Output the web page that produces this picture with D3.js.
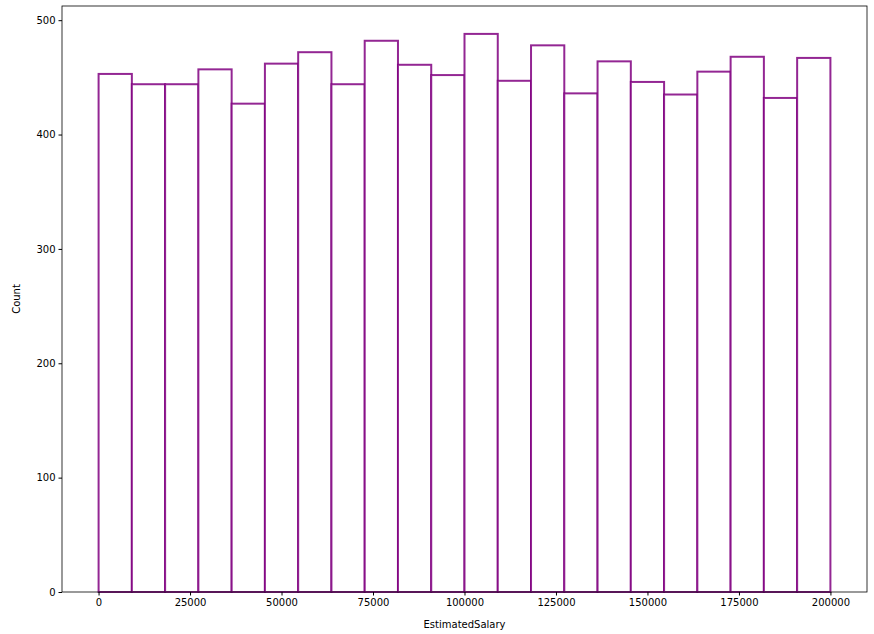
<!DOCTYPE html>
<html>
<head>
<meta charset="utf-8">
<script src="https://cdn.jsdelivr.net/npm/d3@7"></script>
<style>
  body { margin: 0; background: #fff; }
  text { font-family: "DejaVu Sans", sans-serif; }
</style>
</head>
<body>
<div id="chart"></div>
<script>
// histogram of EstimatedSalary, 22 bins
const binStart = 11.58;
const binEnd = 199992.48;
const counts = [453, 444, 444, 457, 427, 462, 472, 444, 482, 461, 452,
                488, 447, 478, 436, 464, 446, 435, 455, 468, 432, 467];
const xTicks = [0, 25000, 50000, 75000, 100000, 125000, 150000, 175000, 200000];
const yTicks = [0, 100, 200, 300, 400, 500];

const W = 874, H = 634;
const margin = { top: 6, right: 7, bottom: 42, left: 62 };
const width = W - margin.left - margin.right;
const height = H - margin.top - margin.bottom;

const svg = d3.select('#chart').append('svg')
  .attr('width', W).attr('height', H);
const g = svg.append('g')
  .attr('transform', `translate(${margin.left},${margin.top})`);

const pad = (binEnd - binStart) * 0.05;
const x = d3.scaleLinear().domain([binStart - pad, binEnd + pad]).range([0, width]);
const y = d3.scaleLinear().domain([0, d3.max(counts) * 1.05]).range([height, 0]);

const bw = (binEnd - binStart) / counts.length;

g.selectAll('rect.bar')
  .data(counts)
  .enter().append('rect')
  .attr('class', 'bar')
  .attr('x', (d, i) => x(binStart + i * bw))
  .attr('width', (d, i) => x(binStart + (i + 1) * bw) - x(binStart + i * bw))
  .attr('y', d => y(d))
  .attr('height', d => height - y(d))
  .attr('fill', 'white')
  .attr('stroke', 'purple')
  .attr('stroke-opacity', 0.85)
  .attr('stroke-width', 2);

const xAxis = g.append('g')
  .attr('transform', `translate(0,${height})`)
  .call(d3.axisBottom(x).tickValues(xTicks).tickFormat(d3.format('d')).tickSize(3.5).tickPadding(3));
const yAxis = g.append('g')
  .call(d3.axisLeft(y).tickValues(yTicks).tickSize(3.5).tickPadding(3));
[xAxis, yAxis].forEach(a => {
  a.selectAll('text').style('font-size', '10px').attr('fill', '#000');
  a.select('.domain').remove();
});

// frame
g.append('rect')
  .attr('width', width).attr('height', height)
  .attr('fill', 'none').attr('stroke', '#000').attr('stroke-width', 0.8);

g.append('text')
  .text('EstimatedSalary')
  .attr('x', width / 2).attr('y', height + 36)
  .attr('text-anchor', 'middle').style('font-size', '10px');

g.append('text')
  .text('Count')
  .attr('transform', `translate(-42,${height / 2}) rotate(-90)`)
  .attr('text-anchor', 'middle').style('font-size', '10px');
</script>
</body>
</html>
